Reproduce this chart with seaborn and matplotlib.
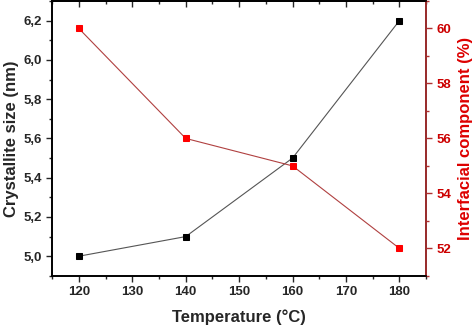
import matplotlib
matplotlib.use("Agg")
import matplotlib.pyplot as plt
import seaborn as sns
import pandas as pd
from matplotlib.ticker import MultipleLocator, FuncFormatter, NullFormatter

temperature = [120, 140, 160, 180]
crystallite_size = [5.0, 5.1, 5.5, 6.2]
interfacial = [60, 56, 55, 52]

df = pd.DataFrame({"T": temperature, "size": crystallite_size, "inter": interfacial})

sns.set_theme(style="ticks")
plt.rcParams["font.family"] = ["Liberation Sans", "DejaVu Sans"]
plt.rcParams["font.weight"] = "bold"

fig = plt.figure(figsize=(4.74, 3.28), dpi=100)
ax = fig.add_axes([0.110, 0.159, 0.789, 0.838])
ax2 = ax.twinx()

sns.lineplot(data=df, x="T", y="size", ax=ax, color="#555555", linewidth=0.8,
             marker="s", markersize=5, markerfacecolor="black", markeredgecolor="black")
sns.lineplot(data=df, x="T", y="inter", ax=ax2, color="#b04040", linewidth=0.8,
             marker="s", markersize=5, markerfacecolor="red", markeredgecolor="red")

ax.set_xlim(115, 185)
ax.set_ylim(4.9, 6.3)
ax2.set_ylim(51, 61)

ax.xaxis.set_major_locator(MultipleLocator(10))
ax.xaxis.set_minor_locator(MultipleLocator(5))
ax.yaxis.set_major_locator(MultipleLocator(0.2))
ax.yaxis.set_minor_locator(MultipleLocator(0.1))
ax.yaxis.set_major_formatter(FuncFormatter(lambda v, p: f"{v:.1f}".replace(".", ",")))
ax2.yaxis.set_major_locator(MultipleLocator(2))
ax2.yaxis.set_minor_locator(MultipleLocator(1))

for a in (ax, ax2):
    for s in a.spines.values():
        s.set_linewidth(1.2)
        s.set_color("black")
    a.tick_params(which="major", length=4, width=1.0, labelsize=9.5)
    a.tick_params(which="minor", length=2, width=1.0)

ax.tick_params(axis="x", which="both", top=False, direction="out")
top = ax.secondary_xaxis("top")
top.xaxis.set_major_locator(MultipleLocator(10))
top.xaxis.set_minor_locator(MultipleLocator(5))
top.xaxis.set_major_formatter(NullFormatter())
top.tick_params(which="major", direction="in", length=4, width=1.0)
top.tick_params(which="minor", direction="in", length=2, width=1.0)
top.spines["top"].set_linewidth(1.2)

ax2.spines["right"].set_color("#b03030")
ax2.tick_params(axis="y", which="both", colors="#b03030", labelcolor="#cc0000")
for lbl in ax.get_xticklabels() + ax.get_yticklabels() + ax2.get_yticklabels():
    lbl.set_fontweight("bold")

ax.set_xlabel("Temperature (°C)", fontsize=12, fontweight="bold", labelpad=8)
ax.set_ylabel("Crystallite size (nm)", fontsize=12, fontweight="bold", labelpad=3)
ax2.set_ylabel("Interfacial component (%)", fontsize=12, fontweight="bold", color="#dd0000", labelpad=5)

fig.savefig("out.png", dpi=100)
